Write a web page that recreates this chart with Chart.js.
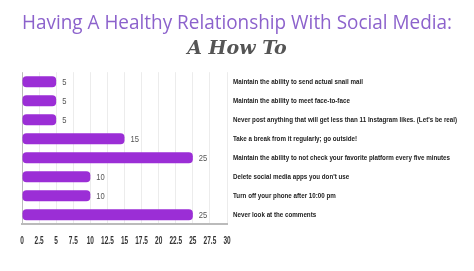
<!DOCTYPE html>
<html>
<head>
<meta charset="utf-8">
<script src="https://cdn.jsdelivr.net/npm/chart.js@4.4.1/dist/chart.umd.min.js"></script>
<style>
  html, body { margin: 0; padding: 0; background: #fff; }
  #wrap { width: 474px; height: 271px; position: relative; }
</style>
</head>
<body>
<div id="wrap"><canvas id="chart"></canvas></div>
<script>
// --- Datos ---
const tips = [
    'Maintain the ability to send actual snail mail',
    'Maintain the ability to meet face-to-face',
    "Never post anything that will get less than 11 Instagram likes. (Let's be real)",
    'Take a break from it regularly; go outside!',
    'Maintain the ability to not check your favorite platform every five minutes',
    "Delete social media apps you don't use",
    'Turn off your phone after 10:00 pm',
    'Never look at the comments'
];
const scores = [5, 5, 5, 15, 25, 10, 10, 25];
const xTicks = [0, 2.5, 5, 7.5, 10, 12.5, 15, 17.5, 20, 22.5, 25, 27.5, 30];

const condensed = "'Liberation Sans', sans-serif";

// texto estrecho: se comprime en horizontal
function narrowText(ctx, text, x, y, squeeze) {
    ctx.save();
    ctx.translate(x, y);
    ctx.scale(squeeze, 1);
    ctx.fillText(text, 0, 0);
    ctx.restore();
}

// etiquetas de valor, de categoria y del eje x
const sideLabels = {
    id: 'sideLabels',
    afterDatasetsDraw(chart) {
        const ctx = chart.ctx;
        const meta = chart.getDatasetMeta(0);
        const xScale = chart.scales.x;
        const yScale = chart.scales.y;
        ctx.save();
        ctx.textBaseline = 'middle';

        ctx.textAlign = 'left';
        ctx.fillStyle = '#555';
        ctx.font = '9.5px ' + condensed;
        meta.data.forEach((bar, i) => {
            narrowText(ctx, String(scores[i]), bar.x + 6, bar.y + 1, 0.8);
        });

        ctx.fillStyle = '#222';
        ctx.font = 'bold 8px ' + condensed;
        tips.forEach((t, i) => {
            narrowText(ctx, t, chart.chartArea.right + 6, yScale.getPixelForValue(i), 0.78);
        });

        ctx.textAlign = 'center';
        ctx.fillStyle = '#333';
        ctx.font = 'bold 10.5px ' + condensed;
        xTicks.forEach(v => {
            narrowText(ctx, String(v), xScale.getPixelForValue(v), chart.chartArea.bottom + 17, 0.62);
        });
        ctx.restore();
    }
};

const ctx = document.getElementById('chart').getContext('2d');
new Chart(ctx, {
    type: 'bar',
    data: {
        labels: tips,
        datasets: [{
            data: scores,
            backgroundColor: '#9b2ed6',
            borderRadius: 4,
            borderSkipped: false,
            categoryPercentage: 1,
            barPercentage: 0.58
        }]
    },
    options: {
        indexAxis: 'y',
        responsive: true,
        maintainAspectRatio: false,
        animation: false,
        layout: { padding: { left: 22, right: 22, top: 2, bottom: 12 } },
        plugins: {
            legend: { display: false },
            tooltip: { enabled: false },
            title: {
                display: true,
                text: 'Having A Healthy Relationship With Social Media:',
                color: '#8c62cc',
                font: { family: "'Open Sans', sans-serif", size: 19.5, weight: 'normal' },
                padding: { top: 10, bottom: 2 }
            },
            subtitle: {
                display: true,
                text: 'A How To',
                color: '#555',
                font: { family: "'DejaVu Serif', serif", size: 19, style: 'italic', weight: 'bold' },
                padding: { top: 0, bottom: 12 }
            }
        },
        scales: {
            x: {
                min: 0,
                max: 30,
                afterBuildTicks: scale => { scale.ticks = xTicks.map(v => ({ value: v })); },
                grid: {
                    color: c => c.tick && c.tick.value === 0 ? '#bbb' : '#ececec',
                    drawTicks: false
                },
                border: { color: '#bbb', width: 2 },
                ticks: {
                    autoSkip: false,
                    color: 'rgba(0,0,0,0)',
                    padding: 12,
                    maxRotation: 0,
                    font: { family: condensed, size: 9, weight: 'bold' },
                    callback: v => String(v)
                }
            },
            y: {
                position: 'right',
                grid: { display: false },
                border: { display: false },
                afterFit: scale => { scale.width = 225; },
                ticks: { display: false }
            }
        }
    },
    plugins: [sideLabels]
});
</script>
</body>
</html>
